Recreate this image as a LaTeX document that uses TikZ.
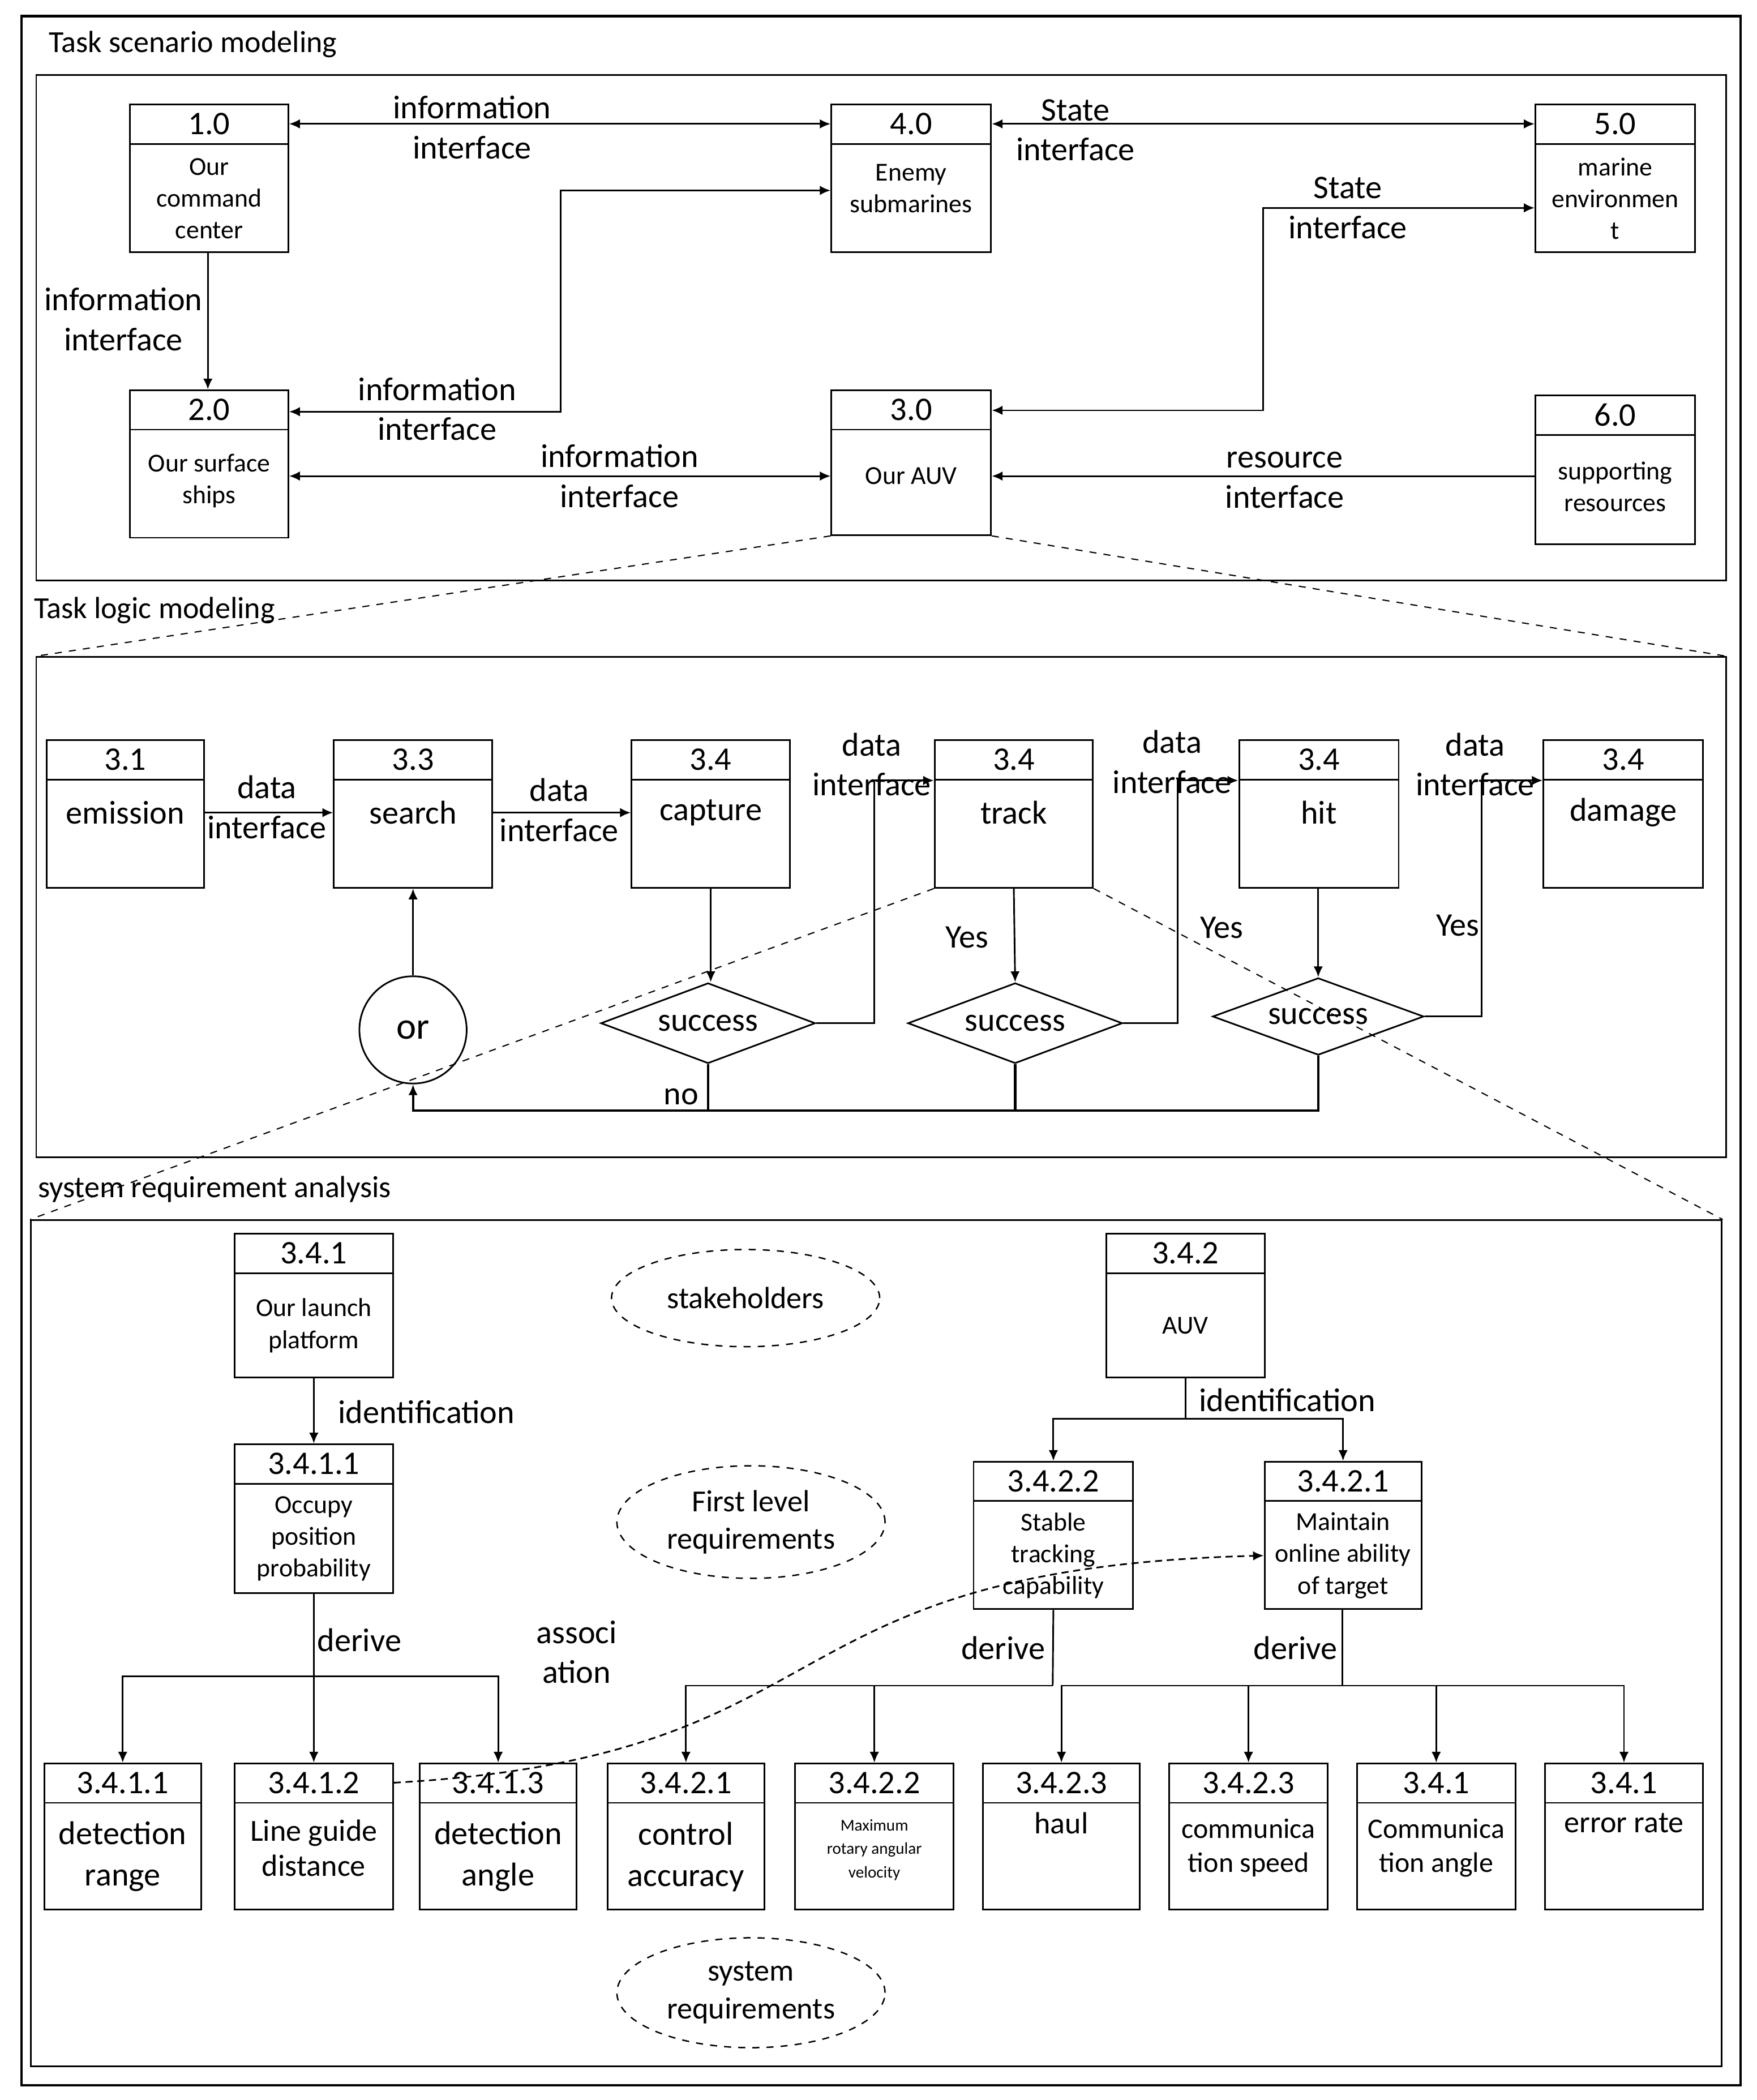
\documentclass[tikz,border=0pt]{standalone}
\usepackage{fontspec}
\setmainfont{Carlito}
\usetikzlibrary{arrows.meta, fit, shapes.geometric, calc}
\tikzset{
  >={Latex[length=1.6mm,width=1.4mm]},
  box/.style = {draw, line width=0.7pt, inner sep=0pt},
  num/.style = {font=\fontsize{14}{16}\selectfont, inner sep=0pt},
  body/.style = {align=center, inner sep=0pt},
  lbl/.style = {align=center, font=\fontsize{14}{17}\selectfont, inner sep=0pt},
  title/.style = {anchor=west, font=\fontsize{13}{16}\selectfont, inner sep=0pt},
  panel/.style = {draw, line width=0.7pt},
  con/.style = {line width=0.7pt},
  zoomln/.style = {dashed, line width=0.5pt},
  ell/.style = {draw, dashed, ellipse, line width=0.6pt, minimum width=4cm, minimum height=1.45cm, align=center, font=\fontsize{13}{16}\selectfont},
}
% name, x1, y1, x2, y2, number, text, font, text shift
\newcommand\rbox[9]{%
  \node[box, fit={(#2,#3) (#4,#5)}] (#1) {};
  \draw[line width=0.7pt] ([yshift=-0.6cm]#1.north west) -- ([yshift=-0.6cm]#1.north east);
  \node[num] (#1-n) at ([yshift=-0.3cm]#1.north) {#6};
  \node[body, font=#8] (#1-t) at ([yshift=#9]#1.center) {#7};
}
\newcommand\fs[2]{\fontsize{#1}{#2}\selectfont}
\begin{document}
\begin{tikzpicture}[x=0.02cm, y=-0.02cm]
\useasboundingbox (0,0) rectangle (1310,1566);
\draw[line width=1pt] (16,12) rectangle (1298,1555);

% ---------- Task scenario modeling ----------
\node[title] (t1) at (36,33) {Task scenario modeling};
\node[panel, fit={(27,56) (1287,433)}, inner sep=0pt] (p1) {};
\rbox{b1}{97}{78}{215}{188}{1.0}{Our\\command\\center}{\fs{11}{13.5}}{-0.3cm}
\rbox{b4}{620}{78}{739}{188}{4.0}{Enemy\\submarines}{\fs{11}{13.5}}{-0.15cm}
\rbox{b5}{1145}{78}{1264}{188}{5.0}{marine\\environmen\\t}{\fs{11}{13.5}}{-0.3cm}
\rbox{b2}{97}{291}{215}{401}{2.0}{Our surface\\ships}{\fs{11}{13.5}}{-0.25cm}
\rbox{b3}{620}{291}{739}{399}{3.0}{Our AUV}{\fs{11}{13.5}}{-0.2cm}
\rbox{b6}{1145}{295}{1264}{406}{6.0}{supporting\\resources}{\fs{11}{13.5}}{-0.25cm}

\draw[con, <->] (b1-n -| b1.east) -- (b1-n -| b4.west);
\node[lbl] (l1) at (352,95) {information\\interface};
\draw[con, <->] (b4-n -| b4.east) -- (b4-n -| b5.west);
\node[lbl] (l2) at (802,97) {State\\interface};
\draw[con, <->] (b4.west |- 0,142) -- (418,142) -- (418,307) -- (b2.east |- 0,307);
\node[lbl] (l3) at (326,305) {information\\interface};
\draw[con, <->] (b3.east |- 0,306) -- (942,306) -- (942,155) -- (b5.west |- 0,155);
\node[lbl] (l4) at (1005,155) {State\\interface};
\draw[con, ->] (b1.south -| 155,0) -- (b2.north -| 155,0);
\node[lbl] (l5) at (92,238) {information\\interface};
\draw[con, <->] (b2.east |- 0,355) -- (b3.west |- 0,355);
\node[lbl] (l6) at (462,355) {information\\interface};
\draw[con, ->] (b6.west |- 0,355) -- (b3.east |- 0,355);
\node[lbl] (l7) at (958,358) {resource\\interface};

% ---------- Task logic modeling ----------
\node[title] (t2) at (25,455) {Task logic modeling};
\node[panel, fit={(27,490) (1287,863)}, inner sep=0pt] (p2) {};
\draw[zoomln] (b3.south west) -- (p2.north west);
\draw[zoomln] (b3.south east) -- (p2.north east);
\rbox{c1}{35}{552}{152}{662}{3.1}{emission}{\fs{14}{17}}{0.02cm}
\rbox{c2}{249}{552}{367}{662}{3.3}{search}{\fs{14}{17}}{0.02cm}
\rbox{c3}{471}{552}{589}{662}{3.4}{capture}{\fs{14}{17}}{0.02cm}
\rbox{c4}{697}{552}{815}{662}{3.4}{track}{\fs{14}{17}}{0.02cm}
\rbox{c5}{924}{552}{1043}{662}{3.4}{hit}{\fs{14}{17}}{0.02cm}
\rbox{c6}{1151}{552}{1270}{662}{3.4}{damage}{\fs{14}{17}}{0.02cm}

\tikzset{dia/.style={draw, diamond, aspect=2.65, inner sep=0pt, minimum width=3.2cm, minimum height=1.2cm, line width=0.7pt, font=\fs{14}{17}}}
\node[dia] (d1) at (528,763) {success};
\node[dia] (d2) at (757,763) {success};
\node[dia, minimum width=3.15cm, minimum height=1.15cm] (d3) at (983,758) {success};
\node[draw, circle, minimum size=1.6cm, inner sep=0pt, line width=0.7pt, font=\fs{16}{19}] (or) at (308,768) {or};

\draw[con, ->] (c1.east |- 0,606) -- (c2.west |- 0,606);
\node[lbl] (m1) at (199,602) {data\\interface};
\draw[con, ->] (c2.east |- 0,606) -- (c3.west |- 0,606);
\node[lbl] (m2) at (417,604) {data\\interface};
\draw[con, ->] (c3.south -| 530,0) -- (d1.north -| 530,0);
\draw[con, ->] (d1.east) -- (652,763) -- (652,582) -- (c4.west |- 0,582);
\node[lbl] (m3) at (650,570) {data\\interface};
\draw[con, ->] (c4.south) -- (d2.north);
\node[lbl] (y1) at (721,699) {Yes};
\draw[con, ->] (d2.east) -- (878,763) -- (878,582) -- (c5.west |- 0,582);
\node[lbl] (m4) at (874,568) {data\\interface};
\node[lbl] (y2) at (911,692) {Yes};
\draw[con, ->] (c5.south -| 983,0) -- (d3.north);
\draw[con, ->] (d3.east) -- (1105,758) -- (1105,582) -- (c6.west |- 0,582);
\node[lbl] (m5) at (1100,570) {data\\interface};
\node[lbl] (y3) at (1087,690) {Yes};
\draw[con, ->] (or.north) -- (c2.south -| or.north);
\draw[con, line width=1pt] (d1.south) -- (528,828);
\draw[con, line width=1pt] (d2.south) -- (757,828);
\draw[con, line width=1pt, ->] (d3.south) -- (983,828) -- (308,828) -- (or.south);
\node[lbl] (no) at (508,818) {no};

% ---------- system requirement analysis ----------
\node[title] (t3) at (28,887) {system requirement analysis};
\node[panel, fit={(23,910) (1284,1541)}, inner sep=0pt] (p3) {};
\draw[zoomln] (c4.south west) -- (p3.north west);
\draw[zoomln] (c4.south east) -- (p3.north east);

\rbox{s1}{175}{920}{293}{1027}{3.4.1}{Our launch\\platform}{\fs{11}{13.5}}{-0.3cm}
\rbox{s2}{825}{920}{943}{1027}{3.4.2}{AUV}{\fs{11}{13.5}}{-0.3cm}
\rbox{s11}{175}{1077}{293}{1188}{3.4.1.1}{Occupy\\position\\probability}{\fs{11}{13.5}}{-0.3cm}
\rbox{s22}{726}{1090}{845}{1200}{3.4.2.2}{Stable\\tracking\\capability}{\fs{11}{13.5}}{-0.3cm}
\rbox{s21}{943}{1090}{1060}{1200}{3.4.2.1}{Maintain\\online ability\\of target}{\fs{11}{13.5}}{-0.3cm}

\rbox{r1}{33}{1315}{150}{1424}{3.4.1.1}{detection\\range}{\fs{14}{17.5}}{-0.3cm}
\rbox{r2}{175}{1315}{293}{1424}{3.4.1.2}{Line guide\\distance}{\fs{13}{15}}{-0.17cm}
\rbox{r3}{313}{1315}{430}{1424}{3.4.1.3}{detection\\angle}{\fs{14}{17.5}}{-0.3cm}
\rbox{r4}{453}{1315}{570}{1424}{3.4.2.1}{control\\accuracy}{\fs{14}{17.5}}{-0.3cm}
\rbox{r5}{593}{1315}{711}{1424}{3.4.2.2}{Maximum\\rotary angular\\velocity}{\fs{7}{10}}{-0.2cm}
\rbox{r6}{733}{1315}{850}{1424}{3.4.2.3}{haul}{\fs{13}{15}}{0.2cm}
\rbox{r7}{872}{1315}{990}{1424}{3.4.2.3}{communica\\tion speed}{\fs{12}{14.5}}{-0.17cm}
\rbox{r8}{1012}{1315}{1130}{1424}{3.4.1}{Communica\\tion angle}{\fs{12}{14.5}}{-0.17cm}
\rbox{r9}{1152}{1315}{1270}{1424}{3.4.1}{error rate}{\fs{13}{15}}{0.2cm}

\node[ell] (e1) at (556,968) {stakeholders};
\node[ell, minimum height=1.5cm] (e2) at (560,1135) {First level\\requirements};
\node[ell, minimum height=1.5cm] (e3) at (560,1486) {system\\requirements};

\draw[con, ->] (s1.south) -- (s11.north);
\node[lbl] (i1) at (318,1053) {identification};
\draw[con] (s2.south) -- (884,1058);
\draw[con, ->] (884,1058) -| (s22.north);
\draw[con, ->] (884,1058) -| (s21.north);
\node[lbl] (i2) at (960,1044) {identification};

\draw[con] (s11.south) -- (234,1250);
\draw[con, ->] (234,1250) -| (r1.north);
\draw[con, ->] (234,1250) -- (r2.north);
\draw[con, ->] (234,1250) -| (r3.north);
\node[lbl] (dv1) at (268,1223) {derive};

\draw[con] (s22.south) -- (785,1257);
\draw[con, ->] (785,1257) -| (r4.north);
\draw[con, ->] (785,1257) -| (r5.north);
\node[lbl] (dv2) at (748,1229) {derive};

\draw[con] (s21.south -| 1001,0) -- (1001,1257);
\draw[con, ->] (1001,1257) -| (r6.north);
\draw[con, ->] (1001,1257) -| (r7.north);
\draw[con, ->] (1001,1257) -| (r8.north);
\draw[con, ->] (1001,1257) -| (r9.north);
\node[lbl] (dv3) at (966,1229) {derive};

\draw[con, densely dashed, ->] (r2.east |- r2-n) .. controls (640,1310) and (560,1170) .. (s21.west |- 0,1160);
\node[lbl] (as) at (430,1232) {associ\\ation};
\end{tikzpicture}
\end{document}
